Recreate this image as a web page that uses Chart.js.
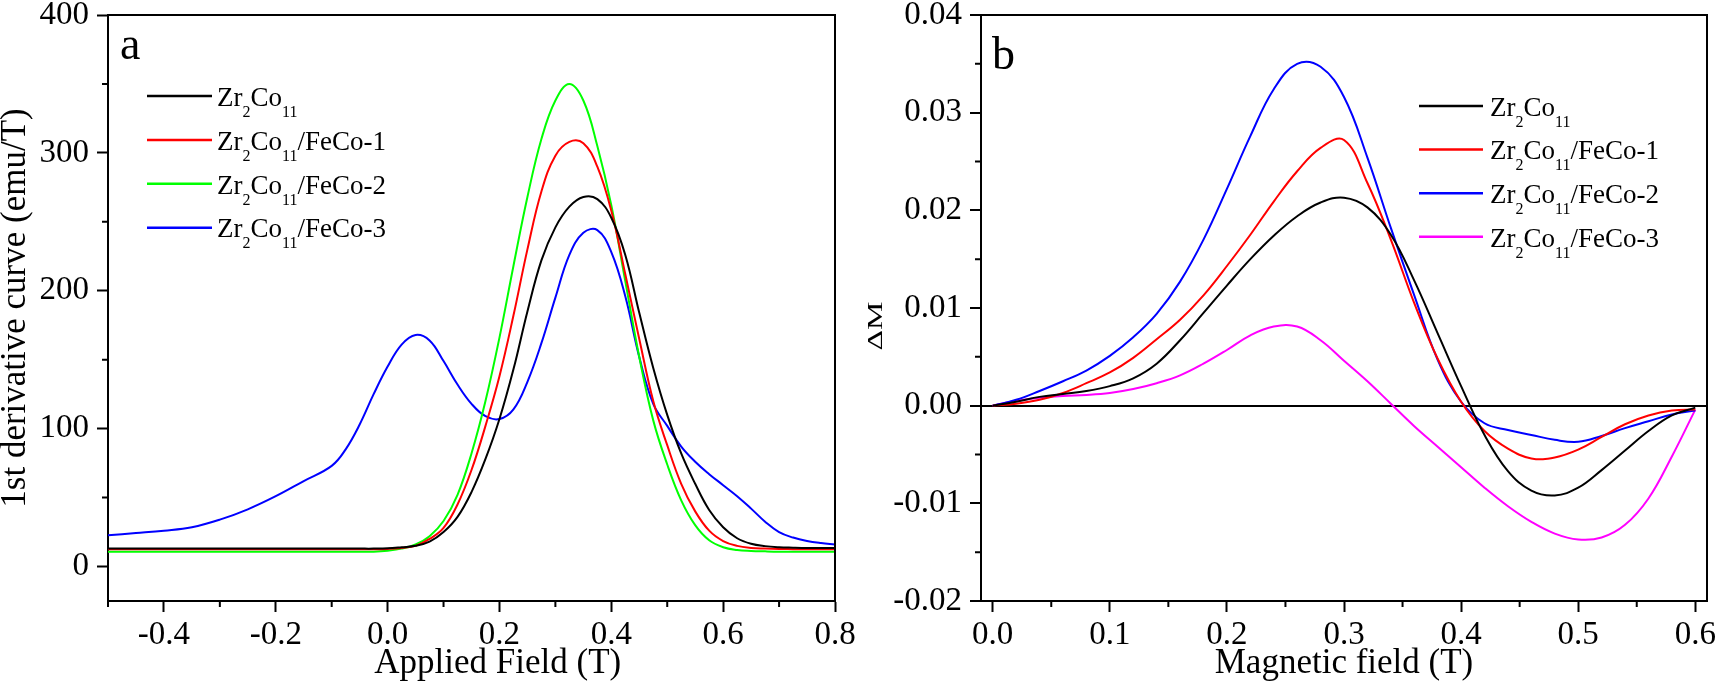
<!DOCTYPE html>
<html>
<head>
<meta charset="utf-8">
<script src="https://cdn.jsdelivr.net/npm/chart.js@4.4.1/dist/chart.umd.min.js"></script>
<style>
  body { margin: 0; background: #fff; }
  canvas { position: absolute; top: 0; }
  #panelA { left: 0; }
  #panelB { left: 840px; }
</style>
</head>
<body>
<canvas id="panelA" width="860" height="690"></canvas>
<canvas id="panelB" width="877" height="690"></canvas>
<script>
// panel a : 1st derivative curves
const fieldA = [-0.5, -0.45, -0.4, -0.35, -0.3, -0.25, -0.2, -0.15, -0.1, -0.075, -0.05, -0.025,
  0, 0.025, 0.05, 0.075, 0.1, 0.125, 0.15, 0.175, 0.2, 0.225, 0.25, 0.275, 0.3, 0.325, 0.35, 0.375,
  0.4, 0.425, 0.45, 0.475, 0.5, 0.525, 0.55, 0.575, 0.6, 0.625, 0.65, 0.675, 0.7, 0.725, 0.75, 0.775, 0.8];

const derivZr2Co11 = [13, 13, 13, 13, 13, 13, 13, 13, 13, 13, 13, 13,
  13.2, 14, 15, 18, 25, 36, 54, 78, 107, 143, 185, 222, 246, 261, 268, 266.5,
  253, 226, 184, 144, 110, 82, 60, 41, 28.5, 20.5, 16.5, 14.8, 14, 13.7, 13.5, 13.5, 13.5];
const derivFeCo1 = [12.5, 12.5, 12.5, 12.5, 12.5, 12.5, 12.5, 12.5, 12.5, 12.5, 12.5, 12.5,
  12.8, 13.5, 15, 20, 28, 45, 70, 102, 138, 182, 230, 272, 298, 308, 307, 290,
  258, 212, 165, 120, 88, 60, 40, 26, 18.5, 15, 13.5, 13, 12.7, 12.6, 12.5, 12.5, 12.5];
const derivFeCo2 = [10.8, 10.8, 10.8, 10.8, 10.8, 10.8, 10.8, 10.8, 10.8, 10.8, 10.8, 10.8,
  11.5, 13, 16, 22, 33, 52, 82, 120, 166, 218, 268, 310, 338, 350, 338, 305,
  262, 207, 152, 106, 74, 48, 30, 19, 14, 12, 11.3, 11, 10.8, 10.8, 10.8, 10.8, 10.8];
const derivFeCo3 = [22.7, 24.3, 26, 28.5, 34, 41.5, 51, 62, 73, 85, 103, 125,
  145, 161, 168, 164, 149, 132, 118, 109, 107, 114, 134, 162, 195, 226, 242, 244,
  228, 196, 152, 118, 102, 87, 76, 67, 59, 51, 42, 32.5, 25, 21, 18.5, 17, 16];

// panel b : delta M
const fieldB = [0, 0.02, 0.04, 0.06, 0.08, 0.1, 0.12, 0.14, 0.16, 0.18, 0.2, 0.22, 0.24, 0.26, 0.28,
  0.3, 0.32, 0.34, 0.36, 0.38, 0.4, 0.42, 0.44, 0.46, 0.48, 0.5, 0.52, 0.54, 0.56, 0.58, 0.6];

const dmZr2Co11 = [0, 0.0004, 0.0009, 0.0012, 0.0015, 0.002, 0.0028, 0.0043, 0.0067, 0.0095, 0.0123,
  0.015, 0.0174, 0.0194, 0.0208, 0.0213, 0.0203, 0.0175, 0.0128, 0.0074, 0.002,
  -0.003, -0.0067, -0.0087, -0.0092, -0.0084, -0.0066, -0.0046, -0.0026, -0.001, -0.0002];
const dmFeCo1 = [0, 0.0002, 0.0006, 0.0013, 0.0023, 0.0034, 0.0049, 0.0068, 0.0088, 0.0113, 0.0143,
  0.0175, 0.0209, 0.024, 0.0264, 0.0272, 0.0228, 0.017, 0.0105, 0.0048, 0.0004,
  -0.0026, -0.0044, -0.0054, -0.0053, -0.0045, -0.0032, -0.0019, -0.001, -0.0005, -0.0004];
const dmFeCo2 = [0, 0.0006, 0.0015, 0.0025, 0.0036, 0.0051, 0.007, 0.0094, 0.0127, 0.017, 0.0222,
  0.0276, 0.0324, 0.035, 0.0347, 0.0316, 0.0254, 0.0182, 0.0113, 0.0047, 0.0004,
  -0.0018, -0.0025, -0.003, -0.0035, -0.0037, -0.0031, -0.0023, -0.0016, -0.0009, -0.0005];
const dmFeCo3 = [0, 0.0005, 0.0008, 0.001, 0.0011, 0.0013, 0.0017, 0.0023, 0.0031, 0.0043, 0.0057,
  0.0072, 0.0081, 0.0081, 0.0067, 0.0046, 0.0025, 0.0002, -0.0021, -0.0042, -0.0063,
  -0.0084, -0.0103, -0.0119, -0.0131, -0.0137, -0.0135, -0.0122, -0.0095, -0.0052, -0.0004];

const sampleNames = ['Zr2Co11', 'Zr2Co11/FeCo-1', 'Zr2Co11/FeCo-2', 'Zr2Co11/FeCo-3'];
const colorsA = ['#000000', '#ff0000', '#00ff00', '#0000ff'];
const colorsB = ['#000000', '#ff0000', '#0000ff', '#ff00ff'];

// tick values
const xTicksA = [-0.4, -0.2, 0, 0.2, 0.4, 0.6, 0.8];
const xMinorA = [-0.5, -0.3, -0.1, 0.1, 0.3, 0.5, 0.7];
const yTicksA = [0, 100, 200, 300, 400];
const yMinorA = [50, 150, 250, 350];
const xTicksB = [0, 0.1, 0.2, 0.3, 0.4, 0.5, 0.6];
const xMinorB = [0.05, 0.15, 0.25, 0.35, 0.45, 0.55];
const yTicksB = [-0.02, -0.01, 0, 0.01, 0.02, 0.03, 0.04];
const yMinorB = [-0.015, -0.005, 0.005, 0.015, 0.025, 0.035];

const FAMILY = "'Liberation Serif', 'Times New Roman', serif";
Chart.defaults.font.family = FAMILY;
Chart.defaults.color = '#000';

function makeData(xs, ys) {
  return xs.map((x, i) => ({ x: x, y: ys[i] }));
}

// draws "Zr2Co11" with the digits after letters as subscripts
function drawFormula(ctx, text, x, y, size, subSize, subDrop) {
  const parts = text.split(/(\d+)/);
  let cx = x;
  parts.forEach((part, i) => {
    if (!part) return;
    const isSub = /^\d+$/.test(part) && i > 0 && /[A-Za-z]$/.test(parts[i - 1]);
    ctx.font = (isSub ? subSize : size) + 'px ' + FAMILY;
    ctx.fillText(part, cx, isSub ? y + subDrop : y);
    cx += ctx.measureText(part).width;
  });
}

const framePlugin = {
  id: 'frame',
  afterDraw(chart, args, opts) {
    const { ctx, chartArea: a } = chart;
    ctx.save();
    ctx.strokeStyle = '#000';
    ctx.lineWidth = 2;
    ctx.beginPath();
    ctx.moveTo(a.left - 1, a.top);
    ctx.lineTo(a.right, a.top);
    ctx.lineTo(a.right, a.bottom + 1);
    ctx.stroke();

    // minor ticks
    const xs = chart.scales.x, ys = chart.scales.y;
    ctx.beginPath();
    opts.xMinor.forEach(v => {
      const px = xs.getPixelForValue(v);
      ctx.moveTo(px, a.bottom);
      ctx.lineTo(px, a.bottom + 6);
    });
    opts.yMinor.forEach(v => {
      const py = ys.getPixelForValue(v);
      ctx.moveTo(a.left, py);
      ctx.lineTo(a.left - 6, py);
    });
    ctx.stroke();

    ctx.fillStyle = '#000';
    ctx.textBaseline = 'alphabetic';
    // panel letter
    ctx.font = '46px ' + FAMILY;
    ctx.fillText(opts.letter, opts.letterX, opts.letterY);

    // rotated y title drawn by hand (narrow glyphs as in the original)
    if (opts.yTitle) {
      const t = opts.yTitle;
      ctx.save();
      ctx.translate(t.x, t.y);
      ctx.rotate(-Math.PI / 2);
      ctx.scale(1, 0.65);
      ctx.font = t.size + 'px ' + FAMILY;
      ctx.textAlign = 'center';
      ctx.textBaseline = 'middle';
      ctx.fillText(t.text, 0, 0);
      ctx.restore();
    }

    // legend
    const lg = opts.legend;
    chart.data.datasets.forEach((ds, i) => {
      const ly = lg.y0 + i * lg.dy;
      ctx.strokeStyle = ds.borderColor;
      ctx.lineWidth = 2.5;
      ctx.beginPath();
      ctx.moveTo(lg.x0, ly);
      ctx.lineTo(lg.x1, ly);
      ctx.stroke();
      drawFormula(ctx, ds.label, lg.textX, ly + 9.7, 27, 16, 11);
    });
    ctx.restore();
  }
};

const tickFont = { family: FAMILY, size: 33, lineHeight: 0.9 };
const titleFont = { family: FAMILY, size: 35, lineHeight: 1 };

function axisBase(extra) {
  return Object.assign({
    type: 'linear',
    grid: { drawOnChartArea: false, tickLength: 11, tickWidth: 2, tickColor: '#000' },
    border: { color: '#000', width: 2 }
  }, extra);
}

function lineSets(series, colors) {
  return series.map((s, i) => ({
    label: sampleNames[i],
    data: s,
    borderColor: colors[i],
    borderWidth: 2,
    pointRadius: 0,
    tension: 0.4
  }));
}

new Chart(document.getElementById('panelA'), {
  type: 'line',
  data: {
    datasets: lineSets([derivZr2Co11, derivFeCo1, derivFeCo2, derivFeCo3].map(ys => makeData(fieldA, ys)), colorsA)
  },
  options: {
    responsive: false,
    animation: false,
    layout: { padding: { left: 0, top: 15, right: 25, bottom: 0 } },
    plugins: {
      legend: { display: false },
      tooltip: { enabled: false },
      frame: {
        xMinor: xMinorA, yMinor: yMinorA,
        letter: 'a', letterX: 120, letterY: 59,
        legend: { x0: 147, x1: 212, textX: 217, y0: 96, dy: 43.9 }
      }
    },
    scales: {
      x: axisBase({
        min: -0.5, max: 0.8,
        afterFit: s => { s.height = 89; s.paddingLeft = 0; s.paddingRight = 0; },
        afterBuildTicks: s => { s.ticks = xTicksA.map(v => ({ value: v })); },
        ticks: { callback: v => v.toFixed(1), font: tickFont, padding: 8, maxRotation: 0, autoSkip: false },
        title: { display: true, text: '      Applied Field (T)', font: titleFont, padding: { top: 0, bottom: 9 } }
      }),
      y: axisBase({
        min: -25, max: 400,
        afterFit: s => { s.width = 108; s.paddingTop = 0; s.paddingBottom = 0; },
        afterBuildTicks: s => { s.ticks = yTicksA.map(v => ({ value: v })); },
        ticks: { font: tickFont, padding: 8, autoSkip: false },
        title: { display: true, text: '1st derivative curve (emu/T)', font: titleFont, padding: { top: -2, bottom: 0 } }
      })
    }
  },
  plugins: [framePlugin]
});

new Chart(document.getElementById('panelB'), {
  type: 'line',
  data: {
    datasets: lineSets([dmZr2Co11, dmFeCo1, dmFeCo2, dmFeCo3].map(ys => makeData(fieldB, ys)), colorsB)
  },
  options: {
    responsive: false,
    animation: false,
    layout: { padding: { left: 0, top: 15, right: 10, bottom: 0 } },
    plugins: {
      legend: { display: false },
      tooltip: { enabled: false },
      frame: {
        xMinor: xMinorB, yMinor: yMinorB,
        letter: 'b', letterX: 152, letterY: 69,
        yTitle: { text: '\u0394M', x: 36.5, y: 326, size: 32 },
        legend: { x0: 579, x1: 643, textX: 650, y0: 106, dy: 43.6 }
      }
    },
    scales: {
      x: axisBase({
        min: -0.01, max: 0.61,
        afterFit: s => { s.height = 89; s.paddingLeft = 0; s.paddingRight = 0; },
        afterBuildTicks: s => { s.ticks = xTicksB.map(v => ({ value: v })); },
        ticks: { callback: v => v.toFixed(1), font: tickFont, padding: 8, maxRotation: 0, autoSkip: false },
        title: { display: true, text: 'Magnetic field (T)', font: titleFont, padding: { top: 0, bottom: 9 } }
      }),
      y: axisBase({
        min: -0.02, max: 0.04,
        afterFit: s => { s.width = 141; s.paddingTop = 0; s.paddingBottom = 0; },
        afterBuildTicks: s => { s.ticks = yTicksB.map(v => ({ value: v })); },
        ticks: { callback: v => v.toFixed(2), font: tickFont, padding: 8, autoSkip: false },
        grid: {
          drawOnChartArea: true, tickLength: 11, tickWidth: 2, tickColor: '#000', lineWidth: 2,
          color: c => (c.tick && Math.abs(c.tick.value) < 1e-9) ? '#000' : 'rgba(0,0,0,0)'
        }
      })
    }
  },
  plugins: [framePlugin]
});
</script>
</body>
</html>
